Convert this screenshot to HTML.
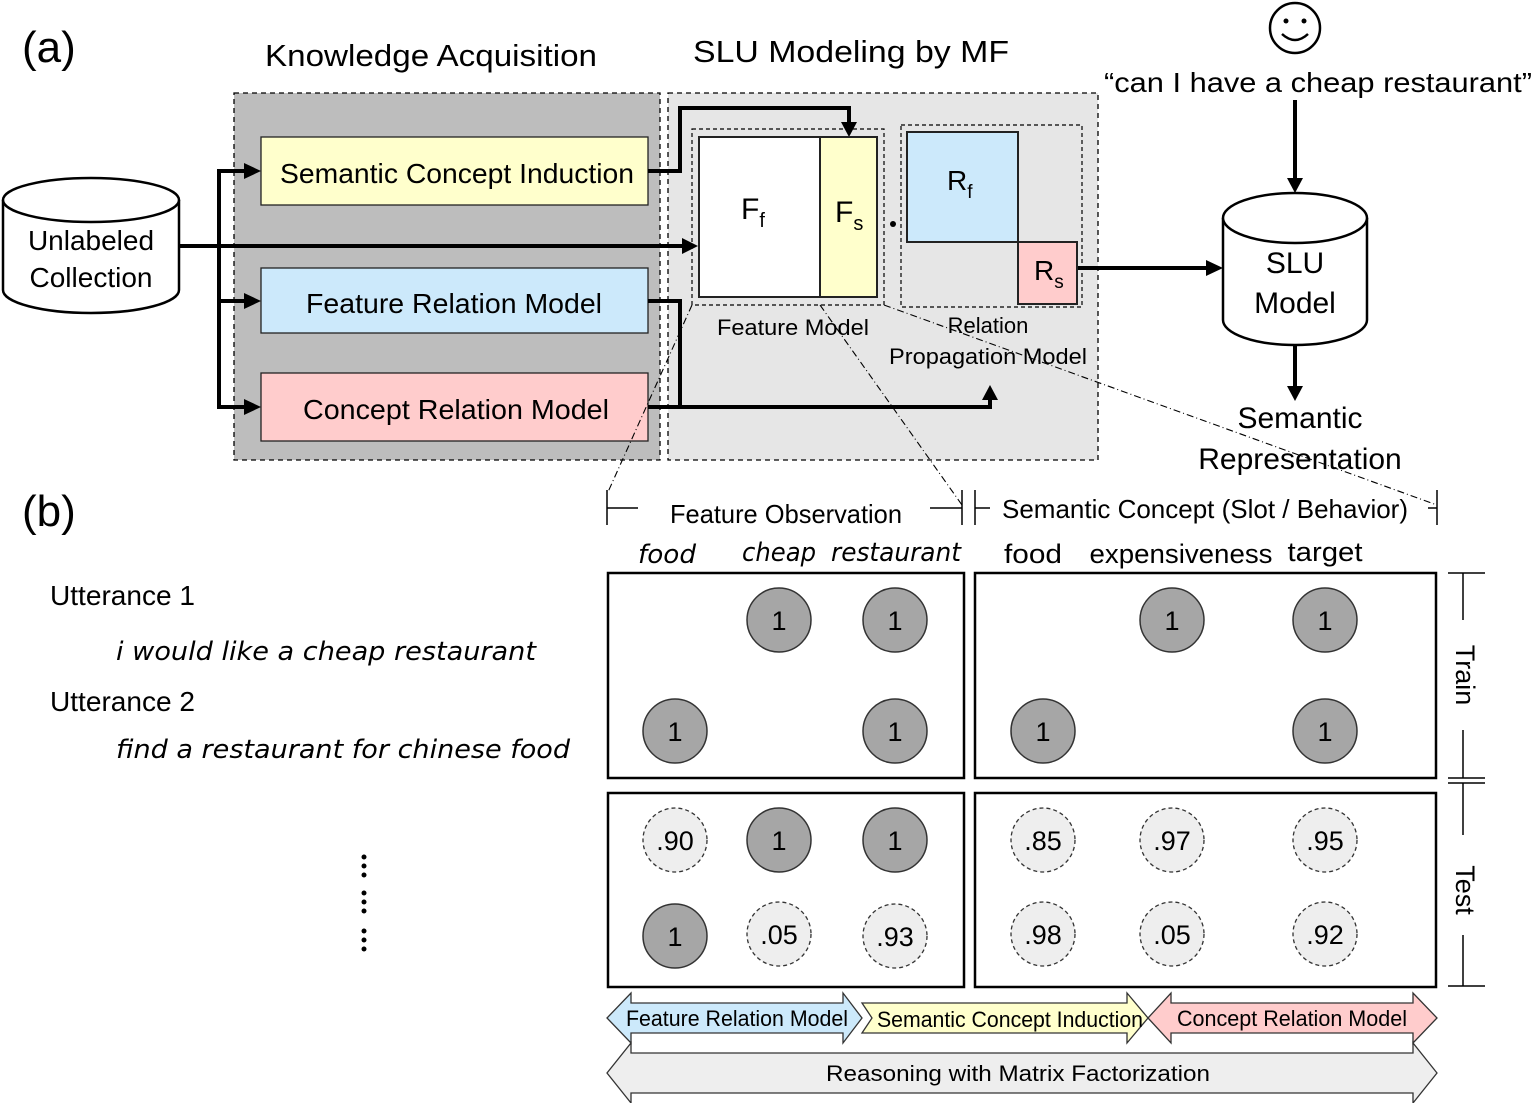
<!DOCTYPE html>
<html><head><meta charset="utf-8"><style>body{margin:0;background:#fff}svg{display:block}</style></head><body>
<svg width="1535" height="1103" viewBox="0 0 1535 1103" xmlns="http://www.w3.org/2000/svg" font-family="Liberation Sans, sans-serif">
<text x="22" y="62" font-size="44">(a)</text>
<text x="431" y="66" font-size="31" text-anchor="middle" textLength="332" lengthAdjust="spacingAndGlyphs">Knowledge Acquisition</text>
<text x="851" y="62" font-size="31" text-anchor="middle" textLength="316" lengthAdjust="spacingAndGlyphs">SLU Modeling by MF</text>
<circle cx="1295" cy="28" r="25" fill="#fff" stroke="#000" stroke-width="2.5"/>
<circle cx="1286" cy="21" r="2.5"/><circle cx="1304" cy="21" r="2.5"/>
<path d="M1282,34 Q1295,46 1308,34" fill="none" stroke="#000" stroke-width="2.5"/>
<text x="1318" y="92" font-size="28" text-anchor="middle" textLength="428" lengthAdjust="spacingAndGlyphs">“can I have a cheap restaurant”</text>
<rect x="234" y="93" width="426" height="367" fill="#bdbdbd" stroke="#000" stroke-dasharray="5,4" stroke-width="1.3"/>
<rect x="668" y="93" width="430" height="367" fill="#e6e6e6" stroke="#000" stroke-dasharray="5,4" stroke-width="1.3"/>
<rect x="261" y="137" width="387" height="68" fill="#ffffcc" stroke="#222" stroke-width="1.3"/>
<text x="457" y="183" font-size="28" text-anchor="middle" textLength="354" lengthAdjust="spacingAndGlyphs">Semantic Concept Induction</text>
<rect x="261" y="268" width="387" height="65" fill="#cce9fb" stroke="#222" stroke-width="1.3"/>
<text x="454" y="313" font-size="28" text-anchor="middle" textLength="296" lengthAdjust="spacingAndGlyphs">Feature Relation Model</text>
<rect x="261" y="373" width="387" height="68" fill="#ffcccc" stroke="#222" stroke-width="1.3"/>
<text x="456" y="419" font-size="28" text-anchor="middle" textLength="306" lengthAdjust="spacingAndGlyphs">Concept Relation Model</text>
<path d="M3,200 L3,290 A88,23 0 0 0 179,290 L179,200" fill="#fff" stroke="#000" stroke-width="2.5"/>
<ellipse cx="91" cy="200" rx="88" ry="22" fill="#fff" stroke="#000" stroke-width="2.5"/>
<text x="91" y="250" font-size="28" text-anchor="middle">Unlabeled</text>
<text x="91" y="287" font-size="28" text-anchor="middle">Collection</text>
<g stroke="#000" stroke-width="4" fill="none">
<line x1="179" y1="246" x2="684" y2="246"/>
<polyline points="246,171 219,171 219,407 246,407"/>
<line x1="219" y1="301" x2="246" y2="301"/>
<polyline points="648,171 680,171 680,108 849,108 849,124"/>
<polyline points="648,301 680,301 680,407"/>
<polyline points="648,407 990,407 990,398"/>
<line x1="1077" y1="268" x2="1208" y2="268"/>
<line x1="1295" y1="100" x2="1295" y2="180"/>
<line x1="1295" y1="345" x2="1295" y2="388"/>
</g>
<g fill="#000">
<path d="M244,163 L261,171 L244,179z"/><path d="M244,293 L261,301 L244,309z"/><path d="M244,399 L261,407 L244,415z"/>
<path d="M682,238 L698,246 L682,254z"/>
<path d="M841,122 L849,137 L857,122z"/>
<path d="M982,400 L990,385 L998,400z"/>
<path d="M1206,260 L1223,268 L1206,276z"/>
<path d="M1287,178 L1295,193 L1303,178z"/>
<path d="M1287,386 L1295,401 L1303,386z"/>
</g>
<rect x="692" y="129" width="192" height="176" fill="none" stroke="#000" stroke-dasharray="4,3" stroke-width="1.2"/>
<rect x="699" y="137" width="121" height="160" fill="#fff" stroke="#222" stroke-width="2"/>
<rect x="820" y="137" width="57" height="160" fill="#ffffcc" stroke="#222" stroke-width="2"/>
<text x="741" y="219" font-size="30">F<tspan font-size="20" dy="8">f</tspan></text>
<text x="835" y="222" font-size="30">F<tspan font-size="20" dy="8">s</tspan></text>
<circle cx="893" cy="224" r="3"/>
<rect x="901" y="125" width="181" height="182" fill="none" stroke="#000" stroke-dasharray="4,3" stroke-width="1.2"/>
<rect x="907" y="132" width="111" height="110" fill="#cce9fb" stroke="#222" stroke-width="2"/>
<rect x="1018" y="242" width="59" height="62" fill="#ffcccc" stroke="#222" stroke-width="2"/>
<text x="947" y="190" font-size="28">R<tspan font-size="19" dy="8">f</tspan></text>
<text x="1034" y="280" font-size="28">R<tspan font-size="19" dy="8">s</tspan></text>
<text x="793" y="335" font-size="22" text-anchor="middle" textLength="152" lengthAdjust="spacingAndGlyphs">Feature Model</text>
<text x="988" y="333" font-size="22" text-anchor="middle">Relation</text>
<text x="988" y="364" font-size="22" text-anchor="middle" textLength="198" lengthAdjust="spacingAndGlyphs">Propagation Model</text>
<path d="M1223,218 L1223,320 A72,25 0 0 0 1367,320 L1367,218" fill="#fff" stroke="#000" stroke-width="2.5"/>
<ellipse cx="1295" cy="218" rx="72" ry="25" fill="#fff" stroke="#000" stroke-width="2.5"/>
<text x="1295" y="273" font-size="30" text-anchor="middle">SLU</text>
<text x="1295" y="313" font-size="30" text-anchor="middle">Model</text>
<text x="1300" y="428" font-size="30" text-anchor="middle">Semantic</text>
<text x="1300" y="469" font-size="30" text-anchor="middle">Representation</text>
<g stroke="#000" stroke-width="1.1" stroke-dasharray="7,3,1,3" fill="none">
<line x1="692" y1="305" x2="608" y2="492"/>
<line x1="820" y1="305" x2="962" y2="505"/>
<line x1="884" y1="305" x2="1437" y2="505"/>
</g>
<text x="22" y="526" font-size="44">(b)</text>
<g stroke="#000" stroke-width="1.5" fill="none">
<line x1="607" y1="490" x2="607" y2="525"/><line x1="607" y1="508" x2="638" y2="508"/>
<line x1="962" y1="490" x2="962" y2="525"/><line x1="930" y1="508" x2="962" y2="508"/>
<line x1="975" y1="490" x2="975" y2="525"/><line x1="975" y1="508" x2="990" y2="508"/>
<line x1="1437" y1="490" x2="1437" y2="525"/><line x1="1428" y1="508" x2="1437" y2="508"/>
</g>
<text x="786" y="523" font-size="26" text-anchor="middle" textLength="232" lengthAdjust="spacingAndGlyphs">Feature Observation</text>
<text x="1205" y="518" font-size="26" text-anchor="middle" textLength="406" lengthAdjust="spacingAndGlyphs">Semantic Concept (Slot / Behavior)</text>
<g font-size="26" font-style="italic" font-family="DejaVu Sans, sans-serif" text-anchor="middle">
<text x="667" y="563" textLength="58" lengthAdjust="spacingAndGlyphs">food</text>
<text x="779" y="561" textLength="74" lengthAdjust="spacingAndGlyphs">cheap</text>
<text x="896" y="561" textLength="130" lengthAdjust="spacingAndGlyphs">restaurant</text>
</g>
<g font-size="27" text-anchor="middle">
<text x="1033" y="563" textLength="58" lengthAdjust="spacingAndGlyphs">food</text>
<text x="1181" y="563" textLength="183" lengthAdjust="spacingAndGlyphs">expensiveness</text>
<text x="1325" y="561" textLength="75" lengthAdjust="spacingAndGlyphs">target</text>
</g>
<g font-size="28">
<text x="50" y="605" textLength="145" lengthAdjust="spacingAndGlyphs">Utterance 1</text>
<text x="50" y="711" textLength="145" lengthAdjust="spacingAndGlyphs">Utterance 2</text>
</g>
<g font-family="DejaVu Sans, sans-serif" font-size="26" font-style="italic">
<text x="116" y="660" textLength="420" lengthAdjust="spacingAndGlyphs">i would like a cheap restaurant</text>
<text x="116" y="758" textLength="454" lengthAdjust="spacingAndGlyphs">find a restaurant for chinese food</text>
</g>
<g fill="#000"><circle cx="364" cy="857" r="2.5"/><circle cx="364" cy="866" r="2.5"/><circle cx="364" cy="875" r="2.5"/>
<circle cx="364" cy="893" r="2.5"/><circle cx="364" cy="902" r="2.5"/><circle cx="364" cy="911" r="2.5"/>
<circle cx="364" cy="931" r="2.5"/><circle cx="364" cy="940" r="2.5"/><circle cx="364" cy="949" r="2.5"/></g>
<g fill="none" stroke="#000" stroke-width="2.5">
<rect x="608" y="573" width="356" height="205"/><rect x="975" y="573" width="461" height="205"/>
<rect x="608" y="793" width="356" height="194"/><rect x="975" y="793" width="461" height="194"/>
</g>
<g stroke="#000" stroke-width="1.5">
<line x1="1448" y1="573" x2="1485" y2="573"/><line x1="1463" y1="573" x2="1463" y2="620"/><line x1="1463" y1="730" x2="1463" y2="778"/><line x1="1448" y1="778" x2="1485" y2="778"/>
<line x1="1448" y1="783" x2="1485" y2="783"/><line x1="1463" y1="783" x2="1463" y2="835"/><line x1="1463" y1="935" x2="1463" y2="986"/><line x1="1448" y1="986" x2="1485" y2="986"/>
</g>
<text transform="translate(1456,675) rotate(90)" font-size="27" text-anchor="middle">Train</text>
<text transform="translate(1456,890) rotate(90)" font-size="27" text-anchor="middle">Test</text>
<g font-size="27" text-anchor="middle">
<g fill="#a6a6a6" stroke="#333" stroke-width="1.5">
<circle cx="779" cy="620" r="32"/><circle cx="895" cy="620" r="32"/><circle cx="1172" cy="620" r="32"/><circle cx="1325" cy="620" r="32"/>
<circle cx="675" cy="731" r="32"/><circle cx="895" cy="731" r="32"/><circle cx="1043" cy="731" r="32"/><circle cx="1325" cy="731" r="32"/>
<circle cx="779" cy="840" r="32"/><circle cx="895" cy="840" r="32"/><circle cx="675" cy="936" r="32"/>
</g>
<g fill="#eeeeee" stroke="#333" stroke-width="1.3" stroke-dasharray="4,3">
<circle cx="675" cy="840" r="32"/><circle cx="1043" cy="840" r="32"/><circle cx="1172" cy="840" r="32"/><circle cx="1325" cy="840" r="32"/>
<circle cx="779" cy="934" r="32"/><circle cx="895" cy="936" r="32"/><circle cx="1043" cy="934" r="32"/><circle cx="1172" cy="934" r="32"/><circle cx="1325" cy="934" r="32"/>
</g>
<text x="779" y="630">1</text><text x="895" y="630">1</text><text x="1172" y="630">1</text><text x="1325" y="630">1</text>
<text x="675" y="741">1</text><text x="895" y="741">1</text><text x="1043" y="741">1</text><text x="1325" y="741">1</text>
<text x="779" y="850">1</text><text x="895" y="850">1</text><text x="675" y="946">1</text>
<text x="675" y="850">.90</text><text x="1043" y="850">.85</text><text x="1172" y="850">.97</text><text x="1325" y="850">.95</text>
<text x="779" y="944">.05</text><text x="895" y="946">.93</text><text x="1043" y="944">.98</text><text x="1172" y="944">.05</text><text x="1325" y="944">.92</text>
</g>
<g stroke="#333" stroke-width="1.3">
<path d="M1437,1073 L1413,1043 L1413,1053 L631,1053 L631,1043 L607,1073 L631,1103 L631,1093 L1413,1093 L1413,1103 Z" fill="#eeeeee"/>
<path d="M607,1018 L631,993 L631,1003 L843,1003 L843,993 L862,1018 L843,1043 L843,1033 L631,1033 L631,1043 Z" fill="#cce9fb"/>
<path d="M862,1003 L1127,1003 L1127,993 L1148,1018 L1127,1043 L1127,1033 L862,1033 L872,1018 Z" fill="#ffffcc"/>
<path d="M1148,1018 L1171,993 L1171,1003 L1413,1003 L1413,993 L1437,1018 L1413,1043 L1413,1033 L1171,1033 L1171,1043 Z" fill="#ffcccc"/>
</g>
<g font-size="22" text-anchor="middle">
<text x="737" y="1026" textLength="222" lengthAdjust="spacingAndGlyphs">Feature Relation Model</text>
<text x="1010" y="1027" textLength="266" lengthAdjust="spacingAndGlyphs">Semantic Concept Induction</text>
<text x="1292" y="1026" textLength="230" lengthAdjust="spacingAndGlyphs">Concept Relation Model</text>
<text x="1018" y="1081" textLength="384" lengthAdjust="spacingAndGlyphs">Reasoning with Matrix Factorization</text>
</g>
</svg>
</body></html>
